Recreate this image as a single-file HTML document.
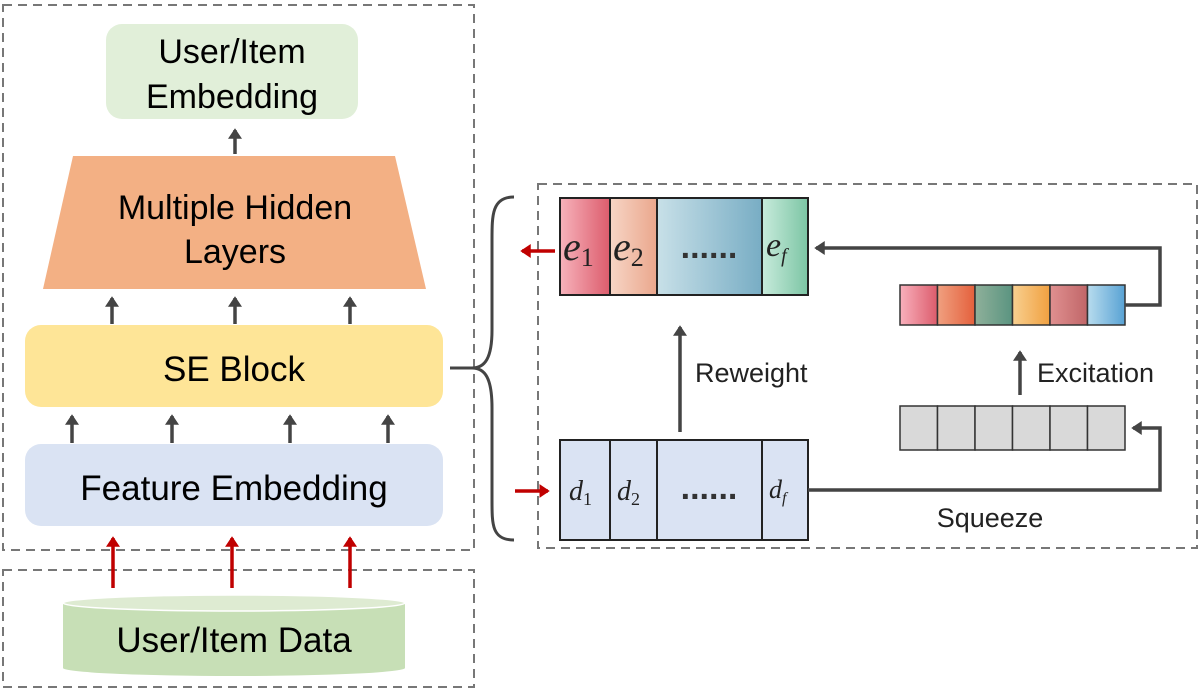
<!DOCTYPE html>
<html><head><style>
body{margin:0;background:#fff;}
svg{display:block;font-family:"Liberation Sans",sans-serif;}
</style></head><body>
<svg width="1200" height="690" viewBox="0 0 1200 690" xmlns="http://www.w3.org/2000/svg">
<defs>
<marker id="ag" markerWidth="4" markerHeight="4" refX="2.5" refY="2" orient="auto" markerUnits="strokeWidth"><path d="M0,0 L3,2 L0,4 z" fill="#444"/></marker>
<marker id="ar" markerWidth="4" markerHeight="4" refX="2.5" refY="2" orient="auto" markerUnits="strokeWidth"><path d="M0,0 L3,2 L0,4 z" fill="#c00000"/></marker>
<linearGradient id="g1"><stop offset="0" stop-color="#f7b3bc"/><stop offset="1" stop-color="#dc5c6c"/></linearGradient>
<linearGradient id="g2"><stop offset="0" stop-color="#f7d6c6"/><stop offset="1" stop-color="#eaa68c"/></linearGradient>
<linearGradient id="g3"><stop offset="0" stop-color="#c8e0e8"/><stop offset="1" stop-color="#78adc4"/></linearGradient>
<linearGradient id="g4"><stop offset="0" stop-color="#c8ebdc"/><stop offset="1" stop-color="#7cc5a4"/></linearGradient>
<linearGradient id="m1"><stop offset="0" stop-color="#f9b0bc"/><stop offset="1" stop-color="#dc5c6c"/></linearGradient>
<linearGradient id="m2"><stop offset="0" stop-color="#f0a080"/><stop offset="1" stop-color="#e4603c"/></linearGradient>
<linearGradient id="m3"><stop offset="0" stop-color="#8fb09a"/><stop offset="1" stop-color="#5a9480"/></linearGradient>
<linearGradient id="m4"><stop offset="0" stop-color="#f8d090"/><stop offset="1" stop-color="#f0a040"/></linearGradient>
<linearGradient id="m5"><stop offset="0" stop-color="#e09090"/><stop offset="1" stop-color="#c06668"/></linearGradient>
<linearGradient id="m6"><stop offset="0" stop-color="#b8dcee"/><stop offset="1" stop-color="#58a2d4"/></linearGradient>
</defs>
<g fill="none" stroke="#777" stroke-width="2" stroke-dasharray="9,6">
<rect x="3" y="5" width="471" height="545"/>
<rect x="3" y="570" width="471" height="117"/>
<rect x="538" y="184" width="659" height="364"/>
</g>
<rect x="106" y="24" width="252" height="95" rx="16" fill="#e1efd9"/>
<text x="232" y="63" font-size="34" text-anchor="middle">User/Item</text>
<text x="232" y="108" font-size="34" text-anchor="middle">Embedding</text>
<polygon points="73,156 395,156 426,289 43,289" fill="#f3b084"/>
<text x="235" y="219" font-size="34" text-anchor="middle">Multiple Hidden</text>
<text x="235" y="263" font-size="34" text-anchor="middle">Layers</text>
<rect x="25" y="325" width="418" height="82" rx="16" fill="#fee597"/>
<text x="234" y="381" font-size="35" text-anchor="middle">SE Block</text>
<rect x="25" y="444" width="418" height="82" rx="16" fill="#dae3f3"/>
<text x="234" y="500" font-size="35" text-anchor="middle">Feature Embedding</text>
<path d="M63,603 L63,668 A171,8 0 0 0 405,668 L405,603 Z" fill="#c7dfb6"/>
<ellipse cx="234" cy="603" rx="171" ry="8" fill="#deebd2" stroke="#fff" stroke-width="1.5"/>
<text x="234" y="652" font-size="35" text-anchor="middle">User/Item Data</text>
<g stroke="#444" stroke-width="3.5" marker-end="url(#ag)">
<line x1="235" y1="154" x2="235" y2="130"/>
<line x1="112" y1="324" x2="112" y2="298"/>
<line x1="235" y1="324" x2="235" y2="298"/>
<line x1="350" y1="324" x2="350" y2="298"/>
<line x1="72" y1="443" x2="72" y2="416"/>
<line x1="172" y1="443" x2="172" y2="416"/>
<line x1="290" y1="443" x2="290" y2="416"/>
<line x1="388" y1="443" x2="388" y2="416"/>
</g>
<g stroke="#c00000" stroke-width="3.5" marker-end="url(#ar)">
<line x1="113" y1="588" x2="113" y2="538"/>
<line x1="232" y1="588" x2="232" y2="538"/>
<line x1="350" y1="588" x2="350" y2="538"/>
<line x1="555" y1="251" x2="522" y2="251"/>
<line x1="515" y1="491" x2="548" y2="491"/>
</g>
<path d="M450,368 L472,368 M514,197 C492,197 492,215 492,240 L492,330 C492,358 485,368 472,368 C485,368 492,378 492,408 L492,500 C492,525 492,540 514,540" fill="none" stroke="#444" stroke-width="3"/>
<g stroke="#222" stroke-width="2">
<rect x="560" y="198" width="50" height="97" fill="url(#g1)"/>
<rect x="610" y="198" width="47" height="97" fill="url(#g2)"/>
<rect x="657" y="198" width="105" height="97" fill="url(#g3)"/>
<rect x="762" y="198" width="46" height="97" fill="url(#g4)"/>
<rect x="560" y="440" width="50" height="100" fill="#dae3f3"/>
<rect x="610" y="440" width="47" height="100" fill="#dae3f3"/>
<rect x="657" y="440" width="105" height="100" fill="#dae3f3"/>
<rect x="762" y="440" width="46" height="100" fill="#dae3f3"/>
</g>
<g stroke="#333" stroke-width="1.5">
<rect x="900" y="285" width="37.5" height="40" fill="url(#m1)"/>
<rect x="937.5" y="285" width="37.5" height="40" fill="url(#m2)"/>
<rect x="975" y="285" width="37.5" height="40" fill="url(#m3)"/>
<rect x="1012.5" y="285" width="37.5" height="40" fill="url(#m4)"/>
<rect x="1050" y="285" width="37.5" height="40" fill="url(#m5)"/>
<rect x="1087.5" y="285" width="37.5" height="40" fill="url(#m6)"/>
<rect x="900" y="406" width="37.5" height="44" fill="#d9d9d9"/>
<rect x="937.5" y="406" width="37.5" height="44" fill="#d9d9d9"/>
<rect x="975" y="406" width="37.5" height="44" fill="#d9d9d9"/>
<rect x="1012.5" y="406" width="37.5" height="44" fill="#d9d9d9"/>
<rect x="1050" y="406" width="37.5" height="44" fill="#d9d9d9"/>
<rect x="1087.5" y="406" width="37.5" height="44" fill="#d9d9d9"/>
</g>
<g font-family="'Liberation Serif',serif" font-style="italic" fill="#222">
<text x="563" y="260" font-size="40">e<tspan font-style="normal" font-size="26" dy="6">1</tspan></text>
<text x="613" y="260" font-size="40">e<tspan font-style="normal" font-size="26" dy="6">2</tspan></text>
<text x="766" y="256" font-size="34">e<tspan font-size="20" dy="6">f</tspan></text>
<text x="569" y="500" font-size="28">d<tspan font-style="normal" font-size="18" dy="5">1</tspan></text>
<text x="617" y="500" font-size="28">d<tspan font-style="normal" font-size="18" dy="5">2</tspan></text>
<text x="769" y="498" font-size="26">d<tspan font-size="16" dy="5">f</tspan></text>
</g>
<text x="709" y="258" font-size="34" font-weight="bold" text-anchor="middle" fill="#333">......</text>
<text x="709" y="499" font-size="34" font-weight="bold" text-anchor="middle" fill="#333">......</text>
<g fill="none" stroke="#444" stroke-width="3.5">
<polyline points="1125,305 1160,305 1160,248 816,248" marker-end="url(#ag)"/>
<polyline points="808,490 1160,490 1160,428 1133,428" marker-end="url(#ag)"/>
<line x1="680" y1="432" x2="680" y2="327" marker-end="url(#ag)"/>
<line x1="1020" y1="395" x2="1020" y2="352" marker-end="url(#ag)"/>
</g>
<text x="695" y="382" font-size="27" fill="#222">Reweight</text>
<text x="1037" y="382" font-size="27" fill="#222">Excitation</text>
<text x="990" y="527" font-size="27" fill="#222" text-anchor="middle">Squeeze</text>
</svg>
</body></html>
